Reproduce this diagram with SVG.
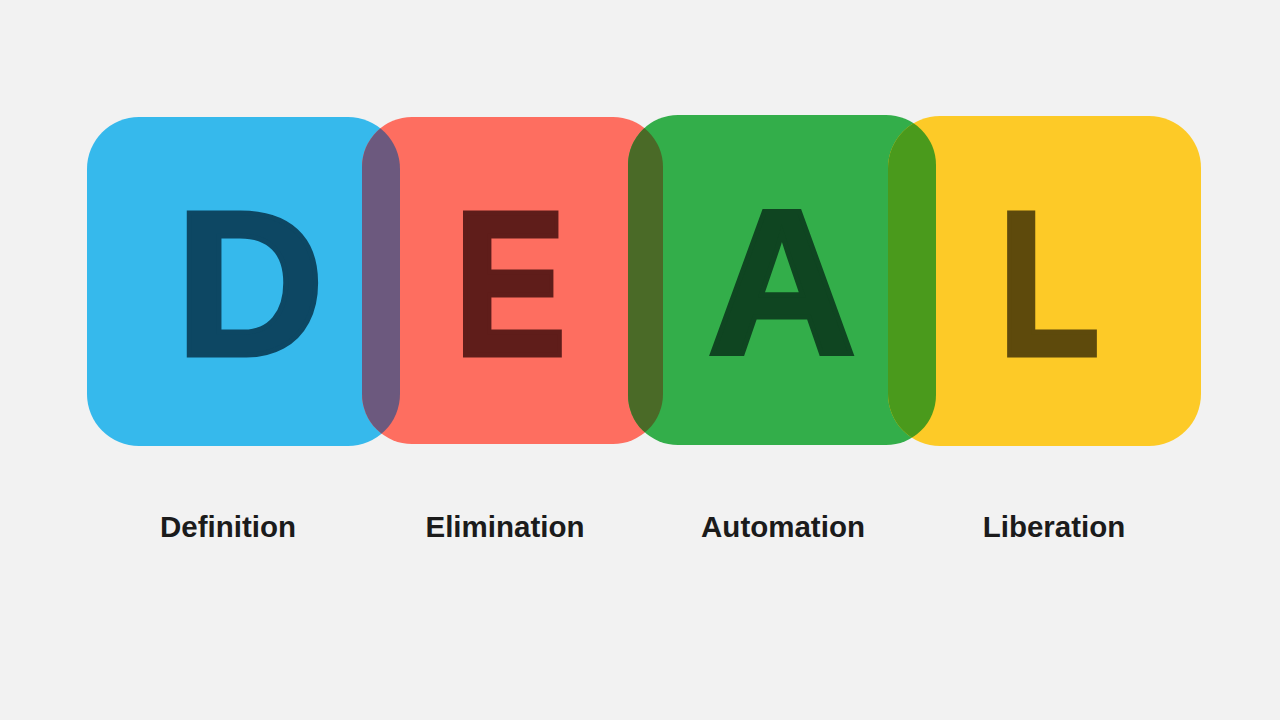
<svg xmlns="http://www.w3.org/2000/svg" width="1280" height="720" viewBox="0 0 1280 720">
<style>
.big{font-family:"Liberation Sans",Arial,sans-serif;font-weight:bold;font-size:206px;text-anchor:middle;stroke-width:5;stroke-linejoin:miter}
.lbl{font-family:"Liberation Sans",Arial,sans-serif;font-weight:bold;font-size:29.5px;fill:#1b1b1b;text-anchor:middle}
</style>
<defs>
<rect id="rB" x="87" y="117" width="313" height="329" rx="52"/>
<rect id="rR" x="362" y="117" width="301" height="327" rx="50"/>
<rect id="rG" x="628" y="115" width="308" height="330" rx="50"/>
<rect id="rY" x="888" y="116" width="313" height="330" rx="52"/>
<clipPath id="cB"><use href="#rB"/></clipPath>
<clipPath id="cR"><use href="#rR"/></clipPath>
<clipPath id="cY"><use href="#rY"/></clipPath>
</defs>
<rect width="1280" height="720" fill="#f2f2f2"/>
<g id="node-D">
<use href="#rB" fill="#36b9ec"/>
<text class="big" x="250" y="355" fill="#0d4763" stroke="#0d4763">D</text>
</g>
<g id="node-E">
<use href="#rR" fill="#fe6e60"/>
<text class="big" x="0" y="355" fill="#5f1d1a" stroke="#5f1d1a" transform="translate(510,0) scale(0.82,1)">E</text>
</g>
<g id="node-A">
<use href="#rG" fill="#33ae4a"/>
<text class="big" x="782" y="353" fill="#0f4521" stroke="#0f4521">A</text>
</g>
<g id="node-L">
<use href="#rY" fill="#fdca27"/>
<text class="big" x="0" y="355" fill="#5e4a0c" stroke="#5e4a0c" transform="translate(1049,0) scale(0.81,1)">L</text>
</g>
<g id="overlaps">
<use href="#rR" fill="#6c597e" clip-path="url(#cB)"/>
<use href="#rG" fill="#4a6a27" clip-path="url(#cR)"/>
<use href="#rG" fill="#4a9a1c" clip-path="url(#cY)"/>
</g>
<g id="labels">
<text class="lbl" x="228" y="537">Definition</text>
<text class="lbl" x="505" y="537">Elimination</text>
<text class="lbl" x="783" y="537">Automation</text>
<text class="lbl" x="1054" y="537">Liberation</text>
</g>
</svg>
